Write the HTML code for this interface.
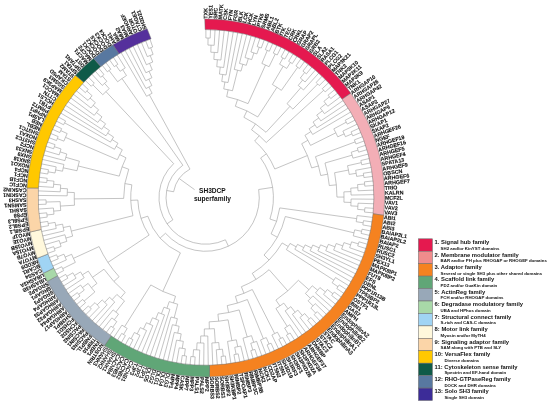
<!DOCTYPE html>
<html><head><meta charset="utf-8"><title>SH3DCP superfamily</title>
<style>
html,body{margin:0;padding:0;background:#fff;}
body{width:550px;height:404px;overflow:hidden;}
svg{display:block;}
svg text{font-family:"Liberation Sans",Arial,Helvetica,sans-serif;font-weight:bold;fill:#111;}
.lb text{font-size:5.35px;stroke:#111;stroke-width:0.1px;}
.lb text.rg{font-size:5.5px;font-weight:normal;fill:#000;stroke:#000;stroke-width:0.14px;}
.lb text.en{font-size:5.9px;font-weight:normal;fill:#000;stroke:#000;stroke-width:0.16px;}
.lt{font-size:5.84px;}
.ls{font-size:4.37px;}
.ct{font-size:6.6px;}
</style></head><body>
<svg width="550" height="404" viewBox="0 0 550 404">
<rect width="550" height="404" fill="#fff"/>
<path d="M173.62 191.75A32.51 32.51 0 0 1 189.99 169.08M166.68 190.48L173.62 191.75M172.87 219.84A39.57 39.57 0 0 1 182.86 165.22M167.03 223.81L172.87 219.84M225.42 239.81A46.63 46.63 0 0 1 173.66 163.63M228.42 246.2L225.42 239.81M258.68 189.51A53.69 53.69 0 0 1 165.48 233.28M272.64 187.39L258.68 189.51M260.63 157.97A67.81 67.81 0 0 1 269.93 219.04M266.36 153.85L260.63 157.97M254.65 141.04A74.87 74.87 0 0 1 274.8 169.01M259.28 135.71L254.65 141.04M251.56 129.78A81.93 81.93 0 0 1 266.24 142.51M255.52 123.93L251.56 129.78M243.88 117.27A88.99 88.99 0 0 1 266.02 132.27M246.92 110.89L243.88 117.27M235.37 106.28A96.05 96.05 0 0 1 257.78 116.96M237.56 99.57L235.37 106.28M226.68 96.67A103.11 103.11 0 0 1 248.05 103.64M228.13 89.76L226.68 96.67M223.76 88.94A110.17 110.17 0 0 1 232.46 90.75M224.92 81.97L223.76 88.94M221.78 81.49A117.23 117.23 0 0 1 228.04 82.54M222.76 74.5L221.78 81.49M219.45 74.08A124.29 124.29 0 0 1 226.06 75M220.24 67.07L219.45 74.08M216.78 66.73A131.35 131.35 0 0 1 223.68 67.5M217.38 59.69L216.78 66.73M213.86 59.44A138.41 138.41 0 0 1 220.91 60.04M214.28 52.39L213.86 59.44M210.81 52.22A145.47 145.47 0 0 1 217.74 52.64M211.06 45.17L210.81 52.22M207.95 45.09A152.53 152.53 0 0 1 214.18 45.31M208.05 38.03L207.95 45.09M205.88 38.01A159.59 159.59 0 0 1 210.23 38.08M205.9 28.45L205.88 38.01M210.51 28.52L210.23 38.08M215.11 28.72L214.18 45.31M219.71 29.04L217.74 52.64M224.3 29.49L220.91 60.04M228.88 30.06L223.68 67.5M233.44 30.76L226.06 75M237.98 31.58L228.04 82.54M237.62 70.21L232.46 90.75M234.25 69.41A131.35 131.35 0 0 1 240.98 71.1M242.49 32.52L234.25 69.41M242.88 64.3L240.98 71.1M239.46 63.4A138.41 138.41 0 0 1 246.27 65.3M246.98 33.59L239.46 63.4M248.35 58.55L246.27 65.3M245.02 57.57A145.47 145.47 0 0 1 251.65 59.61M251.43 34.78L245.02 57.57M253.89 52.91L251.65 59.61M250.92 51.96A152.53 152.53 0 0 1 256.83 53.93M255.85 36.09L250.92 51.96M259.21 47.28L256.83 53.93M257.15 46.57A159.59 159.59 0 0 1 261.25 48.03M260.24 37.52L257.15 46.57M264.58 39.07L261.25 48.03M265.49 65.03L248.05 103.64M261.86 63.45A145.47 145.47 0 0 1 269.09 66.71M267.32 50.43L261.86 63.45M265.31 49.6A159.59 159.59 0 0 1 269.32 51.28M268.88 40.73L265.31 49.6M273.14 42.52L269.32 51.28M275.25 54.01L269.09 66.71M273.28 53.07A159.59 159.59 0 0 1 277.2 54.97M277.34 44.42L273.28 53.07M281.49 46.43L277.2 54.97M276.96 87.32L257.78 116.96M272.39 84.5A131.35 131.35 0 0 1 281.4 90.33M283.16 66.26L272.39 84.5M279.55 64.19A152.53 152.53 0 0 1 286.71 68.42M282.97 58.02L279.55 64.19M281.06 56.98A159.59 159.59 0 0 1 284.87 59.09M285.58 48.55L281.06 56.98M289.61 50.79L284.87 59.09M290.46 62.44L286.71 68.42M288.61 61.3A159.59 159.59 0 0 1 292.3 63.61M293.59 53.13L288.61 61.3M297.49 55.59L292.3 63.61M297.7 67.27L281.4 90.33M295.92 66.03A159.59 159.59 0 0 1 299.47 68.54M301.33 58.14L295.92 66.03M305.09 60.81L299.47 68.54M289.99 106.35L266.02 132.27M287 103.67A124.29 124.29 0 0 1 292.9 109.13M300.87 87.66L287 103.67M298.22 85.42A145.47 145.47 0 0 1 303.46 89.97M302.71 79.98L298.22 85.42M300.29 78.02A152.53 152.53 0 0 1 305.1 81.99M304.67 72.48L300.29 78.02M302.95 71.14A159.59 159.59 0 0 1 306.37 73.85M308.79 63.57L302.95 71.14M312.4 66.43L306.37 73.85M315.94 69.39L305.1 81.99M319.39 72.45L303.46 89.97M317.7 84.01L292.9 109.13M316.14 82.49A159.59 159.59 0 0 1 319.24 85.55M322.76 75.6L316.14 82.49M326.04 78.84L319.24 85.55M323.72 90.29L266.24 142.51M322.25 88.69A159.59 159.59 0 0 1 325.18 91.91M329.24 82.16L322.25 88.69M332.34 85.58L325.18 91.91M307.42 155.53L274.8 169.01M301.71 143.75A110.17 110.17 0 0 1 311.69 167.9M307.87 140.3L301.71 143.75M304.93 135.35A117.23 117.23 0 0 1 310.56 145.39M310.92 131.6L304.93 135.35M309.11 128.79A124.29 124.29 0 0 1 312.65 134.45M314.99 124.89L309.11 128.79M313.03 122.02A131.35 131.35 0 0 1 316.87 127.8M318.8 117.96L313.03 122.02M316.73 115.09A138.41 138.41 0 0 1 320.8 120.88M322.4 110.88L316.73 115.09M320.3 108.12A145.47 145.47 0 0 1 324.43 113.7M325.86 103.78L320.3 108.12M323.92 101.34A152.53 152.53 0 0 1 327.76 106.26M329.4 96.89L323.92 101.34M328.01 95.21A159.59 159.59 0 0 1 330.76 98.58M335.34 89.07L328.01 95.21M338.26 92.65L330.76 98.58M341.07 96.31L327.76 106.26M343.78 100.04L324.43 113.7M346.39 103.84L320.8 120.88M348.89 107.71L316.87 127.8M351.29 111.65L312.65 134.45M335.85 132.82L310.56 145.39M333.81 128.87A145.47 145.47 0 0 1 337.77 136.82M346.25 122.2L333.81 128.87M345.21 120.29A159.59 159.59 0 0 1 347.27 124.12M353.58 115.66L345.21 120.29M355.75 119.72L347.27 124.12M344.18 133.87L337.77 136.82M342.86 131.07A152.53 152.53 0 0 1 345.45 136.7M357.81 123.82L342.86 131.07M351.92 133.89L345.45 136.7M351.04 131.91A159.59 159.59 0 0 1 352.77 135.88M359.76 127.97L351.04 131.91M361.59 132.18L352.77 135.88M318.49 165.99L311.69 167.9M315.46 156.69A117.23 117.23 0 0 1 320.73 175.51M355.16 141.91L315.46 156.69M354.39 139.89A159.59 159.59 0 0 1 355.9 143.94M363.3 136.43L354.39 139.89M364.9 140.73L355.9 143.94M327.66 174.18L320.73 175.51M324.98 163.02A124.29 124.29 0 0 1 329.3 185.54M352.11 155.17L324.98 163.02M351.22 152.2A152.53 152.53 0 0 1 352.94 158.16M357.96 150.1L351.22 152.2M357.3 148.04A159.59 159.59 0 0 1 358.59 152.17M366.39 145.07L357.3 148.04M367.75 149.45L358.59 152.17M369 153.86L352.94 158.16M336.33 184.85L329.3 185.54M334.58 172.74A131.35 131.35 0 0 1 336.95 197.07M348.44 170.07L334.58 172.74M347.54 165.73A145.47 145.47 0 0 1 349.21 174.44M361.31 162.63L347.54 165.73M360.82 160.52A159.59 159.59 0 0 1 361.77 164.75M370.12 158.3L360.82 160.52M371.13 162.78L361.77 164.75M356.18 173.31L349.21 174.44M355.66 170.26A152.53 152.53 0 0 1 356.65 176.38M372.01 167.28L355.66 170.26M363.64 175.4L356.65 176.38M363.32 173.26A159.59 159.59 0 0 1 363.92 177.54M372.77 171.8L363.32 173.26M373.41 176.34L363.92 177.54M344.01 197.05L336.95 197.07M343.89 191.89A138.41 138.41 0 0 1 343.93 202.2M350.95 191.6L343.89 191.89M350.76 188.15A145.47 145.47 0 0 1 351.05 195.05M357.81 187.69L350.76 188.15M357.57 184.6A152.53 152.53 0 0 1 357.98 190.79M364.61 184L357.57 184.6M364.41 181.84A159.59 159.59 0 0 1 364.78 186.15M373.92 180.9L364.41 181.84M374.31 185.47L364.78 186.15M374.58 190.05L357.98 190.79M374.72 194.63L351.05 195.05M350.99 202.44L343.93 202.2M351.06 198.99A145.47 145.47 0 0 1 350.83 205.89M374.74 199.22L351.06 198.99M357.88 206.29L350.83 205.89M358.03 203.19A152.53 152.53 0 0 1 357.67 209.38M374.64 203.8L358.03 203.19M364.71 209.93L357.67 209.38M364.87 207.77A159.59 159.59 0 0 1 364.53 212.08M374.41 208.38L364.87 207.77M374.05 212.95L364.53 212.08M276.63 221.27L269.93 219.04M279.75 207.92A74.87 74.87 0 0 1 271.12 233.83M356.67 218.63L279.75 207.92M357.07 215.56A152.53 152.53 0 0 1 356.21 221.7M373.57 217.51L357.07 215.56M363.19 222.82L356.21 221.7M363.51 220.68A159.59 159.59 0 0 1 362.83 224.95M372.97 222.06L363.51 220.68M372.25 226.59L362.83 224.95M277.3 237.24L271.12 233.83M285.31 216.54A81.93 81.93 0 0 1 264.02 255.04M354 232.85L285.31 216.54M354.69 229.83A152.53 152.53 0 0 1 353.25 235.86M361.59 231.32L354.69 229.83M362.03 229.2A159.59 159.59 0 0 1 361.12 233.43M371.4 231.09L362.03 229.2M370.43 235.58L361.12 233.43M369.34 240.03L353.25 235.86M269.06 259.99L264.02 255.04M282.16 242.96A88.99 88.99 0 0 1 252.25 273.38M288.24 246.56L282.16 242.96M290 243.45A96.05 96.05 0 0 1 286.35 249.6M296.21 246.82L290 243.45M297.5 244.35A103.11 103.11 0 0 1 294.84 249.25M303.8 247.55L297.5 244.35M305.11 244.88A110.17 110.17 0 0 1 302.41 250.18M311.49 247.91L305.11 244.88M312.8 245.04A117.23 117.23 0 0 1 310.09 250.74M319.26 247.9L312.8 245.04M320.56 244.85A124.29 124.29 0 0 1 317.87 250.92M327.09 247.53L320.56 244.85M328.36 244.33A131.35 131.35 0 0 1 325.74 250.71M334.96 246.84L328.36 244.33M336.17 243.53A138.41 138.41 0 0 1 333.66 250.11M342.83 245.88L336.17 243.53M343.93 242.61A145.47 145.47 0 0 1 341.64 249.12M350.65 244.79L343.93 242.61M351.58 241.83A152.53 152.53 0 0 1 349.66 247.73M358.33 243.88L351.58 241.83M358.95 241.81A159.59 159.59 0 0 1 357.69 245.95M368.13 244.45L358.95 241.81M366.8 248.84L357.69 245.95M365.35 253.19L349.66 247.73M363.79 257.5L341.64 249.12M362.11 261.77L333.66 250.11M360.31 265.99L325.74 250.71M358.4 270.16L317.87 250.92M356.37 274.27L310.09 250.74M354.24 278.33L302.41 250.18M352 282.33L294.84 249.25M333.84 280.18L286.35 249.6M335.49 277.56A152.53 152.53 0 0 1 332.13 282.77M349.65 286.27L335.49 277.56M337.99 286.72L332.13 282.77M339.19 284.91A159.59 159.59 0 0 1 336.77 288.5M347.19 290.14L339.19 284.91M344.63 293.95L336.77 288.5M255.95 279.39L252.25 273.38M269.08 269.68A96.05 96.05 0 0 1 241.37 286.74M287.75 290.87L269.08 269.68M298.38 280.3A124.29 124.29 0 0 1 275.91 300.09M308.92 289.7L298.38 280.3M312.28 285.78A138.41 138.41 0 0 1 305.42 293.48M317.72 290.28L312.28 285.78M319.89 287.59A145.47 145.47 0 0 1 315.49 292.91M325.44 291.96L319.89 287.59M327.33 289.51A152.53 152.53 0 0 1 323.5 294.38M332.97 293.76L327.33 289.51M334.26 292.02A159.59 159.59 0 0 1 331.65 295.48M341.97 297.68L334.26 292.02M339.2 301.34L331.65 295.48M336.34 304.92L323.5 294.38M333.38 308.43L315.49 292.91M310.51 298.37L305.42 293.48M312.87 295.86A145.47 145.47 0 0 1 308.09 300.83M330.33 311.85L312.87 295.86M313.06 305.84L308.09 300.83M315.24 303.64A152.53 152.53 0 0 1 310.84 308.01M327.19 315.19L315.24 303.64M315.71 313.12L310.84 308.01M317.27 311.61A159.59 159.59 0 0 1 314.14 314.6M323.96 318.44L317.27 311.61M320.64 321.61L314.14 314.6M279.91 305.91L275.91 300.09M283.8 303.13A131.35 131.35 0 0 1 275.91 308.55M288.01 308.8L283.8 303.13M290.81 306.67A138.41 138.41 0 0 1 285.15 310.86M295.15 312.24L290.81 306.67M297.85 310.08A145.47 145.47 0 0 1 292.41 314.33M302.32 315.54L297.85 310.08M304.7 313.55A152.53 152.53 0 0 1 299.91 317.48M309.29 318.92L304.7 313.55M310.92 317.5A159.59 159.59 0 0 1 307.64 320.31M317.23 324.68L310.92 317.5M313.75 327.66L307.64 320.31M310.18 330.54L299.91 317.48M306.54 333.33L292.41 314.33M302.82 336.02L285.15 310.86M287.25 326.43L275.91 308.55M289.85 324.75A152.53 152.53 0 0 1 284.62 328.07M299.03 338.6L289.85 324.75M288.27 334.11L284.62 328.07M290.12 332.97A159.59 159.59 0 0 1 286.41 335.22M295.18 341.08L290.12 332.97M291.26 343.46L286.41 335.22M244 293.29L241.37 286.74M252.3 289.53A103.11 103.11 0 0 1 235.4 296.31M274.68 333.59L252.3 289.53M277.43 332.16A152.53 152.53 0 0 1 271.9 334.97M280.75 338.39L277.43 332.16M282.65 337.36A159.59 159.59 0 0 1 278.84 339.39M287.27 345.73L282.65 337.36M283.22 347.89L278.84 339.39M279.12 349.94L271.9 334.97M237.44 303.07L235.4 296.31M247.35 299.55A110.17 110.17 0 0 1 227.25 305.62M263.4 338.75L247.35 299.55M266.26 337.55A152.53 152.53 0 0 1 260.52 339.9M269.07 344.03L266.26 337.55M271.05 343.15A159.59 159.59 0 0 1 267.08 344.87M274.97 351.87L271.05 343.15M270.76 353.7L267.08 344.87M266.5 355.41L260.52 339.9M228.64 312.54L227.25 305.62M239.16 309.92A117.23 117.23 0 0 1 217.92 314.18M247.25 336.98L239.16 309.92M251.48 335.65A145.47 145.47 0 0 1 242.98 338.19M253.71 342.34L251.48 335.65M256.64 341.34A152.53 152.53 0 0 1 250.75 343.29M262.2 357L256.64 341.34M252.84 350.04L250.75 343.29M254.91 349.38A159.59 159.59 0 0 1 250.77 350.66M257.86 358.47L254.91 349.38M253.48 359.83L250.77 350.66M249.06 361.07L242.98 338.19M218.66 321.2L217.92 314.18M228.09 319.84A124.29 124.29 0 0 1 209.15 321.84M231.92 340.67L228.09 319.84M236.27 339.8A145.47 145.47 0 0 1 227.54 341.41M237.76 346.7L236.27 339.8M240.78 346.02A152.53 152.53 0 0 1 234.72 347.32M244.62 362.19L240.78 346.02M236.07 354.25L234.72 347.32M238.19 353.83A159.59 159.59 0 0 1 233.94 354.65M240.14 363.19L238.19 353.83M235.64 364.06L233.94 354.65M231.12 364.81L227.54 341.41M209.35 328.9L209.15 321.84M214.35 328.66A131.35 131.35 0 0 1 204.35 328.94M215.3 342.75L214.35 328.66M218.74 342.48A145.47 145.47 0 0 1 211.85 342.94M219.37 349.51L218.74 342.48M222.46 349.2A152.53 152.53 0 0 1 216.28 349.76M223.24 356.21L222.46 349.2M225.39 355.96A159.59 159.59 0 0 1 221.09 356.44M226.57 365.44L225.39 355.96M222.02 365.95L221.09 356.44M217.45 366.33L216.28 349.76M212.87 366.59L211.85 342.94M204.28 336L204.35 328.94M207.8 335.99A138.41 138.41 0 0 1 200.76 335.93M208.28 366.73L207.8 335.99M200.51 342.98L200.76 335.93M203.96 343.06A145.47 145.47 0 0 1 197.07 342.82M203.7 366.74L203.96 343.06M196.65 349.87L197.07 342.82M199.75 350.02A152.53 152.53 0 0 1 193.56 349.65M199.11 366.63L199.75 350.02M193 356.69L193.56 349.65M195.16 356.85A159.59 159.59 0 0 1 190.85 356.51M194.53 366.39L195.16 356.85M189.96 366.03L190.85 356.51M160.2 237.97L165.48 233.28M180.38 252.87A60.75 60.75 0 0 1 147.77 216.2M162.79 291.4L180.38 252.87M175.52 296.22A103.11 103.11 0 0 1 150.81 284.95M173.46 302.98L175.52 296.22M177.74 304.19A110.17 110.17 0 0 1 169.24 301.6M174.17 317.85L177.74 304.19M177.39 318.65A124.29 124.29 0 0 1 170.97 316.97M175.78 325.52L177.39 318.65M179.15 326.26A131.35 131.35 0 0 1 172.44 324.69M177.73 333.18L179.15 326.26M181.19 333.84A138.41 138.41 0 0 1 174.3 332.42M179.94 340.79L181.19 333.84M183.35 341.36A145.47 145.47 0 0 1 176.55 340.14M182.27 348.33L183.35 341.36M185.34 348.78A152.53 152.53 0 0 1 179.21 347.83M184.4 355.78L185.34 348.78M186.54 356.05A159.59 159.59 0 0 1 182.26 355.47M185.4 365.54L186.54 356.05M180.86 364.93L182.26 355.47M176.33 364.2L179.21 347.83M171.82 363.34L176.55 340.14M167.34 362.37L174.3 332.42M162.89 361.27L172.44 324.69M158.47 360.05L170.97 316.97M166.91 308.26L169.24 301.6M169.9 309.26A117.23 117.23 0 0 1 163.94 307.18M154.08 358.71L169.9 309.26M161.43 313.78L163.94 307.18M164.55 314.92A124.29 124.29 0 0 1 158.35 312.56M149.73 357.26L164.55 314.92M155.67 319.09L158.35 312.56M158.87 320.36A131.35 131.35 0 0 1 152.49 317.74M145.43 355.69L158.87 320.36M149.64 324.19L152.49 317.74M152.87 325.57A138.41 138.41 0 0 1 146.44 322.73M141.16 354L152.87 325.57M143.42 329.11L146.44 322.73M146.56 330.55A145.47 145.47 0 0 1 140.32 327.6M136.95 352.19L146.56 330.55M137.15 333.91L140.32 327.6M139.94 335.27A152.53 152.53 0 0 1 134.39 332.49M132.78 350.27L139.94 335.27M131.1 338.73L134.39 332.49M133.02 339.73A159.59 159.59 0 0 1 129.19 337.71M128.67 348.24L133.02 339.73M124.61 346.1L129.19 337.71M124.54 326.81L150.81 284.95M127.19 328.43A152.53 152.53 0 0 1 121.93 325.14M123.56 334.49L127.19 328.43M125.42 335.59A159.59 159.59 0 0 1 121.71 333.36M120.62 343.85L125.42 335.59M116.69 341.5L121.71 333.36M112.82 339.03L121.93 325.14M141.05 218.36L147.77 216.2M149.1 235.09A67.81 67.81 0 0 1 137.83 200.07M107.92 262.42L149.1 235.09M119.08 276.71A117.23 117.23 0 0 1 99.09 246.58M113.87 281.47L119.08 276.71M125.2 292.39A124.29 124.29 0 0 1 104.01 269.21M120.64 297.77L125.2 292.39M124.52 300.94A131.35 131.35 0 0 1 116.88 294.46M115.8 312.04L124.52 300.94M118.54 314.14A145.47 145.47 0 0 1 113.11 309.88M114.31 319.8L118.54 314.14M116.82 321.63A152.53 152.53 0 0 1 111.85 317.92M112.71 327.37L116.82 321.63M114.48 328.62A159.59 159.59 0 0 1 110.96 326.1M109.02 336.47L114.48 328.62M105.29 333.8L110.96 326.1M101.63 331.03L111.85 317.92M98.05 328.16L113.11 309.88M112.11 299.66L116.88 294.46M114.74 302.01A138.41 138.41 0 0 1 109.55 297.26M94.55 325.2L114.74 302.01M104.65 302.34L109.55 297.26M107.16 304.7A145.47 145.47 0 0 1 102.19 299.91M91.14 322.14L107.16 304.7M97.17 304.88L102.19 299.91M99.38 307.06A152.53 152.53 0 0 1 95.01 302.65M87.8 318.99L99.38 307.06M89.9 307.52L95.01 302.65M91.4 309.07A159.59 159.59 0 0 1 88.42 305.94M84.56 315.75L91.4 309.07M81.4 312.43L88.42 305.94M92.47 277.35L104.01 269.21M96.96 283.36A138.41 138.41 0 0 1 88.32 271.1M91.42 287.73L96.96 283.36M94.86 291.93A145.47 145.47 0 0 1 88.14 283.42M84.11 301.08L94.86 291.93M85.52 302.72A159.59 159.59 0 0 1 82.72 299.43M78.33 309.02L85.52 302.72M75.36 305.53L82.72 299.43M82.44 287.58L88.14 283.42M84.29 290.07A152.53 152.53 0 0 1 80.63 285.06M78.68 294.35L84.29 290.07M80 296.06A159.59 159.59 0 0 1 77.38 292.62M72.48 301.96L80 296.06M69.7 298.31L77.38 292.62M67.02 294.59L80.63 285.06M82.33 274.85L88.32 271.1M84.2 277.75A145.47 145.47 0 0 1 80.54 271.9M64.44 290.8L84.2 277.75M74.47 275.51L80.54 271.9M76.08 278.16A152.53 152.53 0 0 1 72.91 272.82M61.96 286.93L76.08 278.16M66.77 276.31L72.91 272.82M67.85 278.18A159.59 159.59 0 0 1 65.71 274.42M59.6 283.01L67.85 278.18M57.33 279.02L65.71 274.42M73.43 258.38L99.09 246.58M75.35 262.38A145.47 145.47 0 0 1 71.64 254.32M62.71 268.67L75.35 262.38M63.68 270.6A159.59 159.59 0 0 1 61.76 266.72M55.18 274.97L63.68 270.6M53.14 270.86L61.76 266.72M65.14 257.07L71.64 254.32M66.38 259.91A152.53 152.53 0 0 1 63.96 254.2M51.21 266.7L66.38 259.91M57.41 256.82L63.96 254.2M58.22 258.83A159.59 159.59 0 0 1 56.62 254.81M49.39 262.49L58.22 258.83M47.69 258.23L56.62 254.81M130.78 200.33L137.83 200.07M132.96 215.73A74.87 74.87 0 0 1 131.83 184.8M71.31 231.12L132.96 215.73M72.65 236.1A138.41 138.41 0 0 1 70.15 226.09M65.87 238.07L72.65 236.1M66.87 241.37A145.47 145.47 0 0 1 64.95 234.74M60.14 243.49L66.87 241.37M61.1 246.44A152.53 152.53 0 0 1 59.24 240.53M54.41 248.7L61.1 246.44M55.12 250.75A159.59 159.59 0 0 1 53.73 246.65M46.11 253.93L55.12 250.75M44.64 249.59L53.73 246.65M43.29 245.2L59.24 240.53M42.06 240.79L64.95 234.74M63.25 227.55L70.15 226.09M64 230.91A145.47 145.47 0 0 1 62.58 224.16M40.95 236.34L64 230.91M55.63 225.45L62.58 224.16M56.23 228.49A152.53 152.53 0 0 1 55.1 222.4M39.96 231.86L56.23 228.49M48.13 223.54L55.1 222.4M48.5 225.68A159.59 159.59 0 0 1 47.8 221.41M39.09 227.36L48.5 225.68M38.34 222.83L47.8 221.41M124.88 183.59L131.83 184.8M123.67 198.41A81.93 81.93 0 0 1 128.74 169.24M74.26 198.9L123.67 198.41M74.47 205.24A131.35 131.35 0 0 1 74.35 192.56M60.38 206.07L74.47 205.24M60.7 210.49A145.47 145.47 0 0 1 60.19 201.63M53.67 211.12L60.7 210.49M53.98 214.2A152.53 152.53 0 0 1 53.43 208.02M46.96 214.97L53.98 214.2M47.21 217.12A159.59 159.59 0 0 1 46.74 212.82M37.72 218.29L47.21 217.12M37.22 213.73L46.74 212.82M36.85 209.16L53.43 208.02M46.07 202.02L60.19 201.63M46.15 204.19A159.59 159.59 0 0 1 46.03 199.86M36.59 204.58L46.15 204.19M36.47 200L46.03 199.86M67.29 192.29L74.35 192.56M67.2 195.81A138.41 138.41 0 0 1 67.47 188.78M36.46 195.41L67.2 195.81M60.43 188.33L67.47 188.78M60.25 191.77A145.47 145.47 0 0 1 60.69 184.89M36.59 190.83L60.25 191.77M53.65 184.27L60.69 184.89M53.41 187.36A152.53 152.53 0 0 1 53.96 181.18M36.83 186.25L53.41 187.36M46.94 180.42L53.96 181.18M46.72 182.58A159.59 159.59 0 0 1 47.18 178.27M37.2 181.68L46.72 182.58M37.69 177.12L47.18 178.27M122.11 166.79L128.74 169.24M119.23 176.15A88.99 88.99 0 0 1 126.01 157.8M78.12 165.94L119.23 176.15M77.03 170.72A131.35 131.35 0 0 1 79.39 161.22M63.21 167.83L77.03 170.72M62.54 171.21A145.47 145.47 0 0 1 63.96 164.46M55.6 169.93L62.54 171.21M55.07 172.99A152.53 152.53 0 0 1 56.19 166.89M48.1 171.85L55.07 172.99M47.77 173.99A159.59 159.59 0 0 1 48.46 169.72M38.31 172.57L47.77 173.99M39.05 168.05L48.46 169.72M39.91 163.54L56.19 166.89M40.9 159.06L63.96 164.46M65.82 157.3L79.39 161.22M64.91 160.63A145.47 145.47 0 0 1 66.82 154M42 154.61L64.91 160.63M60.08 151.88L66.82 154M59.18 154.85A152.53 152.53 0 0 1 61.04 148.93M43.23 150.19L59.18 154.85M54.35 146.68L61.04 148.93M53.67 148.74A159.59 159.59 0 0 1 55.05 144.64M44.57 145.81L53.67 148.74M46.04 141.46L55.05 144.64M119.69 154.64L126.01 157.8M117.36 159.66A96.05 96.05 0 0 1 122.31 149.77M65.47 137.35L117.36 159.66M63.89 141.17A152.53 152.53 0 0 1 67.16 133.57M57.33 138.56L63.89 141.17M56.55 140.58A159.59 159.59 0 0 1 58.15 136.56M47.62 137.16L56.55 140.58M49.31 132.9L58.15 136.56M60.75 130.61L67.16 133.57M59.86 132.58A159.59 159.59 0 0 1 61.67 128.65M51.12 128.69L59.86 132.58M53.05 124.52L61.67 128.65M116.18 146.26L122.31 149.77M114.5 149.31A103.11 103.11 0 0 1 117.97 143.26M64.59 122.86L114.5 149.31M63.59 124.78A159.59 159.59 0 0 1 65.62 120.95M55.09 120.41L63.59 124.78M57.23 116.36L65.62 120.95M111.97 139.54L117.97 143.26M110.44 142.09A110.17 110.17 0 0 1 113.57 137.03M59.49 112.37L110.44 142.09M107.68 133.15L113.57 137.03M105.98 135.81A117.23 117.23 0 0 1 109.44 130.54M61.86 108.44L105.98 135.81M103.65 126.5L109.44 130.54M101.79 129.25A124.29 124.29 0 0 1 105.59 123.81M64.33 104.58L101.79 129.25M99.91 119.62L105.59 123.81M97.89 122.42A131.35 131.35 0 0 1 101.99 116.87M66.9 100.78L97.89 122.42M96.42 112.53L101.99 116.87M94.29 115.33A138.41 138.41 0 0 1 98.62 109.78M69.57 97.06L94.29 115.33M93.16 105.3L98.62 109.78M91 107.99A145.47 145.47 0 0 1 95.38 102.66M72.35 93.41L91 107.99M90.03 98.05L95.38 102.66M88.03 100.42A152.53 152.53 0 0 1 92.08 95.72M75.22 89.83L88.03 100.42M86.83 91.01L92.08 95.72M85.39 92.63A159.59 159.59 0 0 1 88.28 89.41M78.19 86.34L85.39 92.63M81.26 82.93L88.28 89.41M105.95 91.62L173.66 163.63M102.76 94.71A145.47 145.47 0 0 1 109.23 88.63M92.78 84.73L102.76 94.71M91.26 86.27A159.59 159.59 0 0 1 94.32 83.21M84.41 79.6L91.26 86.27M87.65 76.35L94.32 83.21M104.55 83.35L109.23 88.63M102.25 85.42A152.53 152.53 0 0 1 106.89 81.32M90.98 73.2L102.25 85.42M102.32 75.93L106.89 81.32M100.68 77.34A159.59 159.59 0 0 1 103.98 74.54M94.4 70.14L100.68 77.34M97.89 67.17L103.98 74.54M121.99 78.56L182.86 165.22M117.61 81.76A145.47 145.47 0 0 1 126.48 75.53M109.07 70.51L117.61 81.76M107.35 71.83A159.59 159.59 0 0 1 110.8 69.22M101.47 64.3L107.35 71.83M105.12 61.53L110.8 69.22M122.64 69.6L126.48 75.53M120.06 71.31A152.53 152.53 0 0 1 125.26 67.94M116.1 65.47L120.06 71.31M114.32 66.7A159.59 159.59 0 0 1 117.9 64.27M108.85 58.85L114.32 66.7M112.64 56.28L117.9 64.27M116.51 53.81L125.26 67.94M149.33 94.76L189.99 169.08M146.58 96.31A117.23 117.23 0 0 1 152.11 93.28M120.44 51.45L146.58 96.31M148.89 87L152.11 93.28M145.96 88.55A124.29 124.29 0 0 1 151.86 85.53M124.43 49.2L145.96 88.55M148.81 79.16L151.86 85.53M145.72 80.69A131.35 131.35 0 0 1 151.94 77.71M128.49 47.05L145.72 80.69M149.06 71.27L151.94 77.71M145.86 72.75A138.41 138.41 0 0 1 152.28 69.87M132.6 45.02L145.86 72.75M149.56 63.36L152.28 69.87M146.4 64.72A145.47 145.47 0 0 1 152.76 62.06M136.76 43.09L146.4 64.72M150.2 55.49L152.76 62.06M147.32 56.64A152.53 152.53 0 0 1 153.1 54.39M140.97 41.28L147.32 56.64M150.67 47.76L153.1 54.39M148.65 48.52A159.59 159.59 0 0 1 152.71 47.03M145.23 39.59L148.65 48.52M149.54 38.01L152.71 47.03M179.24 178.57L194.65 189.69" fill="none" stroke="#9c9c9c" stroke-width="0.6"/>
<g stroke="#6e6e6e" stroke-width="0.5" stroke-linejoin="miter">
<path d="M204.76 18.9A179.0 179.0 0 0 1 350.88 93.19L342.14 99.21A167.85 167.85 0 0 0 205.12 29.55Z" fill="#E5194F"/>
<path d="M350.88 93.19A179.0 179.0 0 0 1 383.85 215.37L373.05 213.78A167.85 167.85 0 0 0 342.14 99.21Z" fill="#F3AEB6"/>
<path d="M383.85 215.37A179.0 179.0 0 0 1 209.45 376.86L209.52 365.21A167.85 167.85 0 0 0 373.05 213.78Z" fill="#F58220"/>
<path d="M209.45 376.86A179.0 179.0 0 0 1 104.57 345.6L111.17 335.9A167.85 167.85 0 0 0 209.52 365.21Z" fill="#60A677"/>
<path d="M104.57 345.6A179.0 179.0 0 0 1 47.36 281.38L57.52 275.68A167.85 167.85 0 0 0 111.17 335.9Z" fill="#98A8B8"/>
<path d="M47.36 281.38A179.0 179.0 0 0 1 43.34 273.27L53.75 268.07A167.85 167.85 0 0 0 57.52 275.68Z" fill="#A8D8A8"/>
<path d="M43.34 273.27A179.0 179.0 0 0 1 37.18 258.24L47.97 253.98A167.85 167.85 0 0 0 53.75 268.07Z" fill="#A0D4F4"/>
<path d="M37.18 258.24A179.0 179.0 0 0 1 29.99 232.05L41.23 229.43A167.85 167.85 0 0 0 47.97 253.98Z" fill="#FFF8DC"/>
<path d="M29.99 232.05A179.0 179.0 0 0 1 26.98 187.91L38.41 188.03A167.85 167.85 0 0 0 41.23 229.43Z" fill="#FBD5A8"/>
<path d="M26.98 187.91A179.0 179.0 0 0 1 75.43 75.14L83.84 82.29A167.85 167.85 0 0 0 38.41 188.03Z" fill="#FFC800"/>
<path d="M75.43 75.14A179.0 179.0 0 0 1 93.54 58.4L100.82 66.59A167.85 167.85 0 0 0 83.84 82.29Z" fill="#0F5A48"/>
<path d="M93.54 58.4A179.0 179.0 0 0 1 112.97 44.79L119.05 53.83A167.85 167.85 0 0 0 100.82 66.59Z" fill="#5878A0"/>
<path d="M112.97 44.79A179.0 179.0 0 0 1 147.13 28.75L151.08 38.79A167.85 167.85 0 0 0 119.05 53.83Z" fill="#55309C"/>
</g>
<g class="lb">
<text transform="translate(205.54 18.7) rotate(-90.05)" y="1.9">TXK</text>
<text transform="translate(210.4 18.76) rotate(-88.5)" y="1.9">YES1</text>
<text transform="translate(215.25 18.95) rotate(-86.95)" y="1.9">SRC</text>
<text transform="translate(220.09 19.28) rotate(-85.39)" y="1.9">MATK</text>
<text transform="translate(224.92 19.73) rotate(-83.84)" y="1.9">CSK</text>
<text transform="translate(229.74 20.32) rotate(-82.29)" y="1.9">FYN</text>
<text transform="translate(234.54 21.04) rotate(-80.74)" y="1.9">FGR</text>
<text transform="translate(239.32 21.88) rotate(-79.19)" y="1.9">BLK</text>
<text transform="translate(244.07 22.86) rotate(-77.64)" y="1.9">LCK</text>
<text transform="translate(248.8 23.96) rotate(-76.08)" y="1.9">HCK</text>
<text transform="translate(253.49 25.19) rotate(-74.53)" y="1.9">LYN</text>
<text transform="translate(258.15 26.55) rotate(-72.98)" y="1.9">PTK6</text>
<text transform="translate(262.77 28.03) rotate(-71.43)" y="1.9">SRMS</text>
<text transform="translate(267.35 29.64) rotate(-69.88)" y="1.9">ABL1</text>
<text transform="translate(271.88 31.37) rotate(-68.33)" y="1.9">ABL2</text>
<text transform="translate(276.37 33.22) rotate(-66.77)" y="1.9">BTK</text>
<text transform="translate(280.8 35.2) rotate(-65.22)" y="1.9">ITK</text>
<text transform="translate(285.18 37.29) rotate(-63.67)" y="1.9">TEC</text>
<text transform="translate(289.5 39.5) rotate(-62.12)" y="1.9">CRK</text>
<text transform="translate(293.76 41.83) rotate(-60.57)" y="1.9">CRKL</text>
<text transform="translate(297.96 44.27) rotate(-59.01)" y="1.9">GRAP</text>
<text transform="translate(302.08 46.83) rotate(-57.46)" y="1.9">GRAP2</text>
<text transform="translate(306.14 49.49) rotate(-55.91)" y="1.9">GRAPL</text>
<text transform="translate(310.12 52.27) rotate(-54.36)" y="1.9">GRB2</text>
<text transform="translate(314.02 55.15) rotate(-52.81)" y="1.9">SLA</text>
<text transform="translate(317.85 58.13) rotate(-51.26)" y="1.9">SLA2</text>
<text transform="translate(321.59 61.22) rotate(-49.7)" y="1.9">RASA1</text>
<text transform="translate(325.25 64.41) rotate(-48.15)" y="1.9">PLCG1</text>
<text transform="translate(328.82 67.7) rotate(-46.6)" y="1.9">PLCG2</text>
<text transform="translate(332.31 71.08) rotate(-45.05)" y="1.9">MAP3K21</text>
<text transform="translate(335.69 74.55) rotate(-43.5)" y="1.9">TNK2</text>
<text transform="translate(338.99 78.12) rotate(-41.95)" y="1.9">MAP3K10</text>
<text transform="translate(342.18 81.77) rotate(-40.39)" y="1.9">MAP3K11</text>
<text transform="translate(345.28 85.51) rotate(-38.84)" y="1.9">MAP3K9</text>
<text transform="translate(348.27 89.33) rotate(-37.29)" y="1.9">TNK1</text>
<text transform="translate(351.16 93.23) rotate(-35.74)" y="1.9">ARHGAP10</text>
<text transform="translate(353.94 97.21) rotate(-34.19)" y="1.9">ARHGAP26</text>
<text transform="translate(356.61 101.26) rotate(-32.63)" y="1.9">ARHGAP42</text>
<text transform="translate(359.17 105.38) rotate(-31.08)" y="1.9">ASAP1</text>
<text transform="translate(361.62 109.57) rotate(-29.53)" y="1.9">ASAP2</text>
<text transform="translate(363.95 113.83) rotate(-27.98)" y="1.9">ARHGAP27</text>
<text transform="translate(366.17 118.14) rotate(-26.43)" y="1.9">ARHGAP9</text>
<text transform="translate(368.27 122.52) rotate(-24.88)" y="1.9">ARHGAP12</text>
<text transform="translate(370.26 126.95) rotate(-23.32)" y="1.9">SKAP1</text>
<text transform="translate(372.12 131.43) rotate(-21.77)" y="1.9">SKAP2</text>
<text transform="translate(373.86 135.96) rotate(-20.22)" y="1.9">ARHGEF26</text>
<text transform="translate(375.47 140.54) rotate(-18.67)" y="1.9">NGEF</text>
<text transform="translate(376.96 145.16) rotate(-17.12)" y="1.9">ARHGEF19</text>
<text transform="translate(378.33 149.81) rotate(-15.57)" y="1.9">ARHGEF16</text>
<text transform="translate(379.57 154.51) rotate(-14.01)" y="1.9">ARHGEF5</text>
<text transform="translate(380.68 159.23) rotate(-12.46)" y="1.9">ARHGEF4</text>
<text transform="translate(381.66 163.98) rotate(-10.91)" y="1.9">SPATA13</text>
<text transform="translate(382.51 168.76) rotate(-9.36)" y="1.9">ARHGEF9</text>
<text transform="translate(383.24 173.56) rotate(-7.81)" y="1.9">OBSCN</text>
<text transform="translate(383.83 178.38) rotate(-6.25)" y="1.9">ARHGEF6</text>
<text transform="translate(384.3 183.21) rotate(-4.7)" y="1.9">ARHGEF7</text>
<text transform="translate(384.63 188.05) rotate(-3.15)" y="1.9">TRIO</text>
<text transform="translate(384.83 192.9) rotate(-1.6)" y="1.9">KALRN</text>
<text transform="translate(384.9 197.75) rotate(-0.05)" y="1.9">MCF2L</text>
<text transform="translate(384.84 202.6) rotate(1.5)" y="1.9">VAV1</text>
<text transform="translate(384.65 207.45) rotate(3.06)" y="1.9">VAV2</text>
<text transform="translate(384.32 212.29) rotate(4.61)" y="1.9">VAV3</text>
<text transform="translate(383.86 217.15) rotate(6.17)" y="1.9">ABI1</text>
<text transform="translate(383.27 221.98) rotate(7.72)" y="1.9">ABI2</text>
<text transform="translate(382.55 226.8) rotate(9.28)" y="1.9">ABI3</text>
<text transform="translate(381.7 231.6) rotate(10.84)" y="1.9">BAIAP2L1</text>
<text transform="translate(380.72 236.37) rotate(12.4)" y="1.9">BAIAP2L2</text>
<text transform="translate(379.61 241.12) rotate(13.96)" y="1.9">BAIAP2</text>
<text transform="translate(378.37 245.83) rotate(15.51)" y="1.9">RUSC1</text>
<text transform="translate(377 250.51) rotate(17.07)" y="1.9">RUSC2</text>
<text transform="translate(375.51 255.14) rotate(18.63)" y="1.9">SH3YL1</text>
<text transform="translate(373.89 259.74) rotate(20.19)" y="1.9">PEX13</text>
<text transform="translate(372.15 264.29) rotate(21.74)" y="1.9">MAPK8IP1</text>
<text transform="translate(370.28 268.79) rotate(23.3)" y="1.9">MAPK8IP2</text>
<text transform="translate(368.29 273.24) rotate(24.86)" y="1.9">FUT8</text>
<text transform="translate(366.19 277.63) rotate(26.42)" y="1.9">EFS</text>
<text transform="translate(363.96 281.96) rotate(27.98)" y="1.9">DBNL</text>
<text transform="translate(361.61 286.24) rotate(29.53)" y="1.9">PPP1R13B</text>
<text transform="translate(359.16 290.44) rotate(31.09)" y="1.9">TP53BP2</text>
<text transform="translate(356.58 294.58) rotate(32.65)" y="1.9">PPP1R13L</text>
<text transform="translate(353.9 298.65) rotate(34.21)" y="1.9">OSTF1</text>
<text transform="translate(351.1 302.64) rotate(35.77)" y="1.9">BIN1</text>
<text transform="translate(348.2 306.55) rotate(37.32)" y="1.9">GAS7</text>
<text transform="translate(345.2 310.39) rotate(38.88)" y="1.9">AMPH</text>
<text class="en" transform="translate(342.01 314.23) rotate(40.48)" y="1.9">EndophilinA2</text>
<text class="en" transform="translate(338.71 317.98) rotate(42.08)" y="1.9">EndophilinB2</text>
<text class="en" transform="translate(335.31 321.64) rotate(43.67)" y="1.9">EndophilinB1</text>
<text class="en" transform="translate(331.82 325.21) rotate(45.27)" y="1.9">EndophilinA1</text>
<text class="en" transform="translate(328.22 328.67) rotate(46.87)" y="1.9">EndophilinA3</text>
<text transform="translate(324.53 332.04) rotate(48.46)" y="1.9">STAC</text>
<text transform="translate(320.74 335.3) rotate(50.06)" y="1.9">STAC2</text>
<text transform="translate(316.87 338.45) rotate(51.66)" y="1.9">STAC3</text>
<text transform="translate(312.91 341.49) rotate(53.25)" y="1.9">DNMBP</text>
<text transform="translate(308.87 344.42) rotate(54.85)" y="1.9">ARHGEF37</text>
<text transform="translate(304.74 347.24) rotate(56.45)" y="1.9">ARHGEF38</text>
<text transform="translate(300.54 349.94) rotate(58.04)" y="1.9">SH3PXD2A</text>
<text transform="translate(296.27 352.53) rotate(59.64)" y="1.9">SH3PXD2B</text>
<text transform="translate(291.92 354.99) rotate(61.24)" y="1.9">SH3RF1</text>
<text transform="translate(287.51 357.33) rotate(62.84)" y="1.9">SH3RF3</text>
<text transform="translate(283.04 359.55) rotate(64.43)" y="1.9">SH3D19</text>
<text transform="translate(278.5 361.64) rotate(66.03)" y="1.9">ITSN1</text>
<text transform="translate(273.91 363.61) rotate(67.63)" y="1.9">ITSN2</text>
<text transform="translate(269.27 365.45) rotate(69.22)" y="1.9">CD2AP</text>
<text transform="translate(264.57 367.15) rotate(70.82)" y="1.9">NCK1</text>
<text transform="translate(259.93 368.7) rotate(72.38)" y="1.9">NCK2</text>
<text transform="translate(255.25 370.11) rotate(73.95)" y="1.9">RIMBP3B</text>
<text transform="translate(250.53 371.4) rotate(75.51)" y="1.9">RIMBP3C</text>
<text transform="translate(245.78 372.56) rotate(77.08)" y="1.9">RIMBP3</text>
<text transform="translate(240.99 373.59) rotate(78.64)" y="1.9">TSPOAP1</text>
<text transform="translate(236.18 374.49) rotate(80.21)" y="1.9">RIMBP2</text>
<text transform="translate(231.35 375.25) rotate(81.77)" y="1.9">SH3KBP1</text>
<text transform="translate(226.5 375.89) rotate(83.33)" y="1.9">SH3RF2</text>
<text transform="translate(221.64 376.39) rotate(84.9)" y="1.9">SORBS1</text>
<text transform="translate(216.76 376.76) rotate(86.46)" y="1.9">SORBS2</text>
<text transform="translate(211.87 376.99) rotate(88.03)" y="1.9">SORBS3</text>
<text transform="translate(206.98 377.1) rotate(89.59)" y="1.9">MPP2</text>
<text transform="translate(202.14 377.06) rotate(91.14)" y="1.9">PALS2</text>
<text transform="translate(197.31 376.9) rotate(92.68)" y="1.9">PALS1</text>
<text transform="translate(192.48 376.61) rotate(94.23)" y="1.9">MPP3</text>
<text transform="translate(187.67 376.19) rotate(95.78)" y="1.9">MPP7</text>
<text transform="translate(182.86 375.64) rotate(97.32)" y="1.9">CASK</text>
<text transform="translate(178.07 374.96) rotate(98.87)" y="1.9">MPP4</text>
<text transform="translate(173.31 374.15) rotate(100.41)" y="1.9">MPP1</text>
<text class="rg" transform="translate(168.56 373.21) rotate(101.96)" y="1.9">DLG3</text>
<text class="rg" transform="translate(163.84 372.14) rotate(103.51)" y="1.9">DLG4</text>
<text class="rg" transform="translate(159.16 370.95) rotate(105.05)" y="1.9">DLG1</text>
<text class="rg" transform="translate(154.51 369.63) rotate(106.6)" y="1.9">DLG2</text>
<text class="rg" transform="translate(149.89 368.19) rotate(108.15)" y="1.9">DLG5</text>
<text class="rg" transform="translate(145.32 366.62) rotate(109.69)" y="1.9">TJP1</text>
<text class="rg" transform="translate(140.78 364.93) rotate(111.24)" y="1.9">TJP2</text>
<text class="rg" transform="translate(136.3 363.12) rotate(112.78)" y="1.9">TJP3</text>
<text class="rg" transform="translate(131.87 361.18) rotate(114.33)" y="1.9">CACNB1</text>
<text class="rg" transform="translate(127.49 359.13) rotate(115.88)" y="1.9">CACNB2</text>
<text class="rg" transform="translate(123.17 356.96) rotate(117.42)" y="1.9">CACNB3</text>
<text class="rg" transform="translate(118.9 354.68) rotate(118.97)" y="1.9">CACNB4</text>
<text class="rg" transform="translate(114.71 352.28) rotate(120.52)" y="1.9">SHANK1</text>
<text class="rg" transform="translate(110.57 349.77) rotate(122.06)" y="1.9">SHANK2</text>
<text class="rg" transform="translate(106.51 347.14) rotate(123.61)" y="1.9">SHANK3</text>
<text transform="translate(102.52 344.41) rotate(125.15)" y="1.9">NOSTRIN</text>
<text transform="translate(98.6 341.58) rotate(126.7)" y="1.9">FNBP1</text>
<text transform="translate(94.76 338.63) rotate(128.25)" y="1.9">TRIP10</text>
<text transform="translate(91.01 335.59) rotate(129.79)" y="1.9">FNBP1L</text>
<text transform="translate(87.33 332.44) rotate(131.34)" y="1.9">PACSIN3</text>
<text transform="translate(83.75 329.2) rotate(132.89)" y="1.9">PACSIN1</text>
<text transform="translate(80.25 325.86) rotate(134.43)" y="1.9">PACSIN2</text>
<text transform="translate(76.84 322.43) rotate(135.98)" y="1.9">FCHSD2</text>
<text transform="translate(73.53 318.91) rotate(137.52)" y="1.9">FCHSD1</text>
<text transform="translate(70.31 315.3) rotate(139.07)" y="1.9">SH3BP1</text>
<text transform="translate(67.19 311.6) rotate(140.62)" y="1.9">ARHGAP17</text>
<text transform="translate(64.17 307.82) rotate(142.16)" y="1.9">ARHGAP44</text>
<text transform="translate(61.26 303.96) rotate(143.71)" y="1.9">ARHGAP32</text>
<text transform="translate(58.45 300.03) rotate(145.26)" y="1.9">ARHGAP33</text>
<text transform="translate(55.75 296.02) rotate(146.8)" y="1.9">ARHGAP4</text>
<text transform="translate(53.15 291.93) rotate(148.35)" y="1.9">SRGAP3</text>
<text transform="translate(50.67 287.78) rotate(149.9)" y="1.9">SRGAP1</text>
<text transform="translate(48.3 283.57) rotate(151.44)" y="1.9">SRGAP2</text>
<text transform="translate(46.05 279.29) rotate(152.99)" y="1.9">UBASH3B</text>
<text transform="translate(43.91 274.95) rotate(154.53)" y="1.9">UBASH3A</text>
<text transform="translate(41.89 270.56) rotate(156.08)" y="1.9">CASS4</text>
<text transform="translate(39.99 266.11) rotate(157.63)" y="1.9">BCAR1</text>
<text transform="translate(38.21 261.62) rotate(159.17)" y="1.9">NEDD9</text>
<text transform="translate(36.55 257.07) rotate(160.72)" y="1.9">MYO7A</text>
<text transform="translate(35.02 252.49) rotate(162.27)" y="1.9">MYO7B</text>
<text transform="translate(33.61 247.86) rotate(163.81)" y="1.9">MYO15A</text>
<text transform="translate(32.32 243.2) rotate(165.36)" y="1.9">MYO15B</text>
<text transform="translate(31.16 238.5) rotate(166.9)" y="1.9">MYO1E</text>
<text transform="translate(30.13 233.78) rotate(168.45)" y="1.9">MYO1F</text>
<text transform="translate(29.22 229.03) rotate(170)" y="1.9">EPS8L1</text>
<text transform="translate(28.45 224.26) rotate(171.54)" y="1.9">EPS8L2</text>
<text transform="translate(27.8 219.46) rotate(173.09)" y="1.9">EPS8L3</text>
<text transform="translate(27.28 214.65) rotate(174.64)" y="1.9">EPS8</text>
<text transform="translate(26.9 209.83) rotate(176.18)" y="1.9">SASH1</text>
<text transform="translate(26.64 205.01) rotate(177.73)" y="1.9">SAMSN1</text>
<text transform="translate(26.51 200.17) rotate(179.27)" y="1.9">SASH3</text>
<text transform="translate(26.52 195.33) rotate(180.82)" y="1.9">CASKIN1</text>
<text transform="translate(26.65 190.5) rotate(182.37)" y="1.9">CASKIN2</text>
<text transform="translate(26.92 185.67) rotate(183.91)" y="1.9">NCF1C</text>
<text transform="translate(27.31 180.85) rotate(185.46)" y="1.9">NCF1B</text>
<text transform="translate(27.84 176.04) rotate(187.01)" y="1.9">NCF1</text>
<text transform="translate(28.49 171.27) rotate(188.55)" y="1.9">NCF4</text>
<text transform="translate(29.27 166.51) rotate(190.09)" y="1.9">NOXO1</text>
<text transform="translate(30.18 161.78) rotate(191.63)" y="1.9">SNX18</text>
<text transform="translate(31.21 157.07) rotate(193.17)" y="1.9">SNX9</text>
<text transform="translate(32.37 152.39) rotate(194.71)" y="1.9">SNX33</text>
<text transform="translate(33.66 147.75) rotate(196.25)" y="1.9">NCF2</text>
<text transform="translate(35.07 143.14) rotate(197.79)" y="1.9">SH3TC2</text>
<text transform="translate(36.61 138.57) rotate(199.33)" y="1.9">NOXA1</text>
<text transform="translate(38.26 134.04) rotate(200.88)" y="1.9">SH3TC1</text>
<text transform="translate(40.04 129.56) rotate(202.42)" y="1.9">NEBL</text>
<text transform="translate(41.94 125.13) rotate(203.96)" y="1.9">NEB</text>
<text transform="translate(43.96 120.75) rotate(205.5)" y="1.9">LASP1</text>
<text transform="translate(46.09 116.43) rotate(207.04)" y="1.9">NPHP1</text>
<text transform="translate(48.34 112.17) rotate(208.58)" y="1.9">PRMT2</text>
<text transform="translate(50.7 107.97) rotate(210.12)" y="1.9">FYB1</text>
<text transform="translate(53.18 103.83) rotate(211.66)" y="1.9">HCLS1</text>
<text transform="translate(55.76 99.76) rotate(213.21)" y="1.9">CTTN</text>
<text transform="translate(58.46 95.76) rotate(214.75)" y="1.9">MACC1</text>
<text transform="translate(61.26 91.84) rotate(216.29)" y="1.9">MAP3K9</text>
<text transform="translate(64.16 87.99) rotate(217.83)" y="1.9">SGSM3</text>
<text transform="translate(67.17 84.23) rotate(219.37)" y="1.9">CKAP5D</text>
<text transform="translate(70.28 80.54) rotate(220.91)" y="1.9">STAM</text>
<text transform="translate(73.48 76.94) rotate(222.45)" y="1.9">STAM2</text>
<text transform="translate(76.78 73.43) rotate(223.99)" y="1.9">SPTA1</text>
<text transform="translate(80.18 70.01) rotate(225.54)" y="1.9">SPTAN1</text>
<text transform="translate(83.66 66.68) rotate(227.08)" y="1.9">DST</text>
<text transform="translate(87.23 63.44) rotate(228.62)" y="1.9">MACF1</text>
<text transform="translate(90.89 60.31) rotate(230.16)" y="1.9">MACF2</text>
<text transform="translate(94.64 57.27) rotate(231.7)" y="1.9">DOCK1</text>
<text transform="translate(98.46 54.33) rotate(233.24)" y="1.9">DOCK2</text>
<text transform="translate(102.36 51.5) rotate(234.78)" y="1.9">DOCK5</text>
<text transform="translate(106.33 48.77) rotate(236.32)" y="1.9">DOCK3</text>
<text transform="translate(110.38 46.15) rotate(237.86)" y="1.9">DOCK4</text>
<text transform="translate(114.5 43.65) rotate(239.41)" y="1.9">AHI1</text>
<text transform="translate(118.68 41.25) rotate(240.95)" y="1.9">MIA</text>
<text transform="translate(122.92 38.96) rotate(242.49)" y="1.9">MIA2</text>
<text transform="translate(127.23 36.8) rotate(244.03)" y="1.9">MIA3</text>
<text transform="translate(131.59 34.74) rotate(245.57)" y="1.9">ARHGEF</text>
<text transform="translate(136 32.81) rotate(247.11)" y="1.9">OTOR</text>
<text transform="translate(140.47 30.99) rotate(248.65)" y="1.9">CTAGE1</text>
<text transform="translate(144.98 29.3) rotate(250.19)" y="1.9">SH3D21</text>
</g>
<g>
<rect x="418.4" y="238.8" width="14.0" height="12.44" fill="#E5194F" stroke="#6e6e6e" stroke-width="0.55"/>
<text class="lt" x="434.6" y="244.1">1. Signal hub family</text>
<text class="ls" x="440.6" y="249.7">SH2 and/or KinYST domains</text>
<rect x="418.4" y="251.24" width="14.0" height="12.44" fill="#F08C8C" stroke="#6e6e6e" stroke-width="0.55"/>
<text class="lt" x="434.6" y="256.54">2. Membrane modulator family</text>
<text class="ls" x="440.6" y="262.14">BAR and/or PH plus RHOGAP or RHOGEF domains</text>
<rect x="418.4" y="263.68" width="14.0" height="12.44" fill="#F58220" stroke="#6e6e6e" stroke-width="0.55"/>
<text class="lt" x="434.6" y="268.98">3. Adaptor family</text>
<text class="ls" x="440.6" y="274.58">Several or single SH3 plus other shared domains</text>
<rect x="418.4" y="276.12" width="14.0" height="12.44" fill="#60A677" stroke="#6e6e6e" stroke-width="0.55"/>
<text class="lt" x="434.6" y="281.42">4. Scaffold link family</text>
<text class="ls" x="440.6" y="287.02">PDZ and/or GuaKin domain</text>
<rect x="418.4" y="288.56" width="14.0" height="12.44" fill="#98A8B8" stroke="#6e6e6e" stroke-width="0.55"/>
<text class="lt" x="434.6" y="293.86">5: ActinReg family</text>
<text class="ls" x="440.6" y="299.46">FCH and/or RHOGAP domains</text>
<rect x="418.4" y="301" width="14.0" height="12.44" fill="#A8D8A8" stroke="#6e6e6e" stroke-width="0.55"/>
<text class="lt" x="434.6" y="306.3">6: Degradase modulatory family</text>
<text class="ls" x="440.6" y="311.9">UBA and HPhos domain</text>
<rect x="418.4" y="313.44" width="14.0" height="12.44" fill="#A0D4F4" stroke="#6e6e6e" stroke-width="0.55"/>
<text class="lt" x="434.6" y="318.74">7: Structural connect family</text>
<text class="ls" x="440.6" y="324.34">S-rich and CAS-C domains</text>
<rect x="418.4" y="325.88" width="14.0" height="12.44" fill="#FFF8DC" stroke="#6e6e6e" stroke-width="0.55"/>
<text class="lt" x="434.6" y="331.18">8: Motor link family</text>
<text class="ls" x="440.6" y="336.78">Myosin and/or MyTH4</text>
<rect x="418.4" y="338.32" width="14.0" height="12.44" fill="#FBD5A8" stroke="#6e6e6e" stroke-width="0.55"/>
<text class="lt" x="434.6" y="343.62">9: Signaling adaptor family</text>
<text class="ls" x="440.6" y="349.22">SAM along with PTB and SLY</text>
<rect x="418.4" y="350.76" width="14.0" height="12.44" fill="#FFC800" stroke="#6e6e6e" stroke-width="0.55"/>
<text class="lt" x="434.6" y="356.06">10: VersaFlex family</text>
<text class="ls" x="444.4" y="361.66">Diverse domains</text>
<rect x="418.4" y="363.2" width="14.0" height="12.44" fill="#0F5A48" stroke="#6e6e6e" stroke-width="0.55"/>
<text class="lt" x="434.6" y="368.5">11: Cytoskeleton sense family</text>
<text class="ls" x="444.4" y="374.1">Spectrin and EF-hand domain</text>
<rect x="418.4" y="375.64" width="14.0" height="12.44" fill="#5878A0" stroke="#6e6e6e" stroke-width="0.55"/>
<text class="lt" x="434.6" y="380.94">12: RHO-GTPaseReg family</text>
<text class="ls" x="444.4" y="386.54">DOCK and DHR domains</text>
<rect x="418.4" y="388.08" width="14.0" height="12.44" fill="#3C2C98" stroke="#6e6e6e" stroke-width="0.55"/>
<text class="lt" x="434.6" y="393.38">13: Solo SH3 family</text>
<text class="ls" x="444.4" y="398.98">Single SH3 domain</text>
</g>
<text class="ct" x="212.4" y="193.2" text-anchor="middle">SH3DCP</text>
<text class="ct" x="212.4" y="201.1" text-anchor="middle">superfamily</text>
</svg>
</body></html>
